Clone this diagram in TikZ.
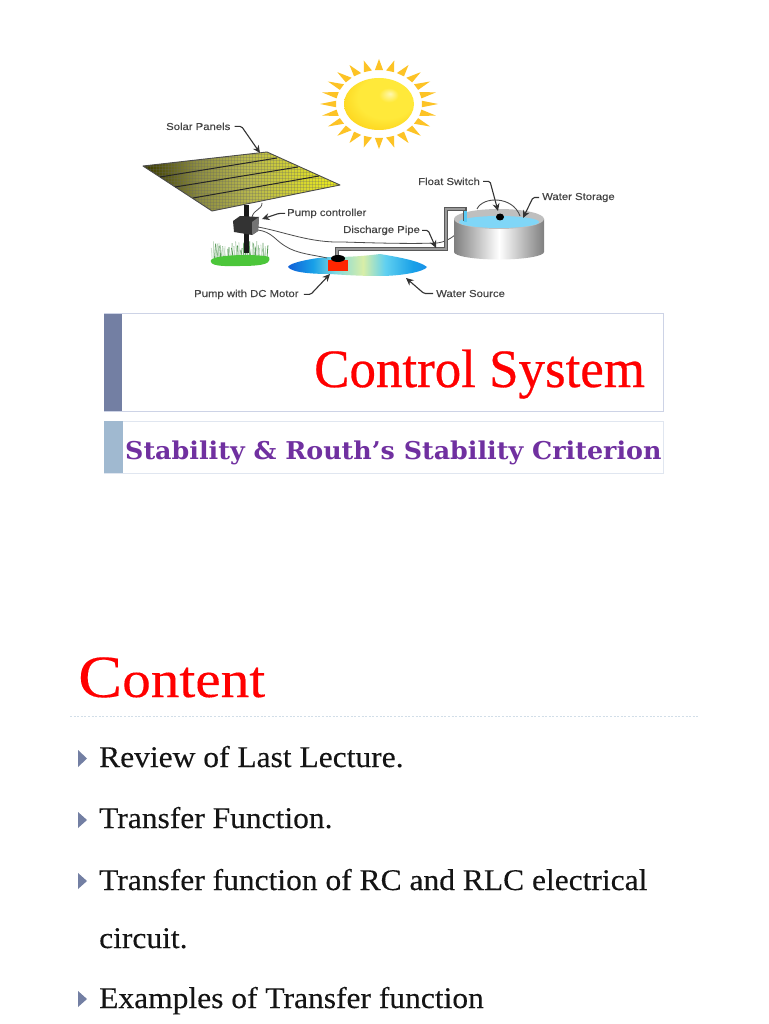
\documentclass[tikz,border=0pt]{standalone}
\usepackage{fontspec}
\usetikzlibrary{shadings,arrows.meta,calc}
\setmainfont{Liberation Serif}
\newfontfamily\bodyf[FakeStretch=1.05,FakeBold=0.25]{Liberation Serif}
\newfontfamily\titlef[FakeStretch=0.98,FakeBold=0.5]{Liberation Serif}
\newfontfamily\contf[FakeStretch=1.10,FakeBold=0.2]{Liberation Serif}
\newfontfamily\subf[FakeStretch=1.035]{DejaVu Serif}
\newfontfamily\labf[FakeStretch=1.12,FakeBold=0.2]{Liberation Sans}
\definecolor{barA}{HTML}{737FA3}
\definecolor{barB}{HTML}{A0B9D0}
\definecolor{edgeA}{HTML}{CDD3E6}
\definecolor{edgeB}{HTML}{E0E6F0}
\definecolor{purp}{HTML}{7030A0}
\definecolor{sunray}{HTML}{FDC325}
\definecolor{labgray}{HTML}{454545}
\definecolor{dotline}{HTML}{D2DEE8}
\definecolor{sunA}{HTML}{FFF8B0}
\definecolor{sunB}{HTML}{FFE93A}
\definecolor{sunC}{HTML}{FDD41C}
\definecolor{sunD}{HTML}{F8B400}
\definecolor{lakeA}{HTML}{1060D8}
\definecolor{lakeB}{HTML}{18A0E8}
\definecolor{lakeC}{HTML}{80D8E0}
\definecolor{lakeD}{HTML}{D8EEA8}
\definecolor{lakeE}{HTML}{60D0F0}
\definecolor{lakeF}{HTML}{1890E8}
\definecolor{grassg}{HTML}{4CC63A}
\pgfdeclarehorizontalshading{lakeshade}{100bp}{
  color(0bp)=(lakeA); color(25bp)=(lakeA);
  color(34bp)=(lakeB); color(42bp)=(lakeC);
  color(52bp)=(lakeD); color(60bp)=(lakeE);
  color(70bp)=(lakeB); color(75bp)=(lakeF); color(100bp)=(lakeF)}
\pgfdeclareradialshading{sunshade}{\pgfpoint{8bp}{10bp}}{
  color(0bp)=(sunA); color(7bp)=(sunB); color(20bp)=(sunB);
  color(32bp)=(sunC); color(44bp)=(sunD); color(50bp)=(sunD)}
\pgfdeclarehorizontalshading{panelshade}{100bp}{
  color(0bp)=(black!75!yellow); color(25bp)=(black!75!yellow);
  color(38bp)=(yellow!40!black!75!white); color(52bp)=(yellow!60!black!70!white);
  color(75bp)=(yellow!90!black!88!white); color(100bp)=(yellow!90!black!88!white)}
\tikzset{
  lab/.style={anchor=base west,inner sep=0pt,text=labgray,font=\labf\fontsize{10.1}{11}\selectfont},
  callout/.style={draw=black!80,line width=1.1pt,-{Stealth[length=7.5pt,width=7pt]},rounded corners=1.5pt},
  body/.style={anchor=base west,inner sep=0pt,text=black!92,font=\bodyf\fontsize{30}{32}\selectfont},
  bullet/.style={fill=barA,draw=none},
  wire/.style={draw=black!70,line width=0.8pt},
  panelline/.style={draw=black!85,line width=1pt},
}
\begin{document}
\begin{tikzpicture}[x=1pt,y=-1pt]
\useasboundingbox (0,0) rectangle (768,1024);
\fill[white] (0,0) rectangle (768,1024);
% --- sun
\foreach \a in {0,15,...,345}{
  \fill[sunray] ($(379,104)+({43*cos(\a-5.5)},{34*sin(\a-5.5)})$) -- ($(379,104)+({59*cos(\a)},{45*sin(\a)})$) -- ($(379,104)+({43*cos(\a+5.5)},{34*sin(\a+5.5)})$) -- cycle;
}
\shade[shading=sunshade] (379,104) ellipse [x radius=35,y radius=26];
% --- solar panel
\shade[shading=panelshade,shading angle=8]
  (143,166) -- (267,152) -- (340,185) -- (212,211) -- cycle;
\begin{scope}
\clip (143,166) -- (267,152) -- (340,185) -- (212,211) -- cycle;
\foreach \i in {0,3,...,210}{
  \draw[black!60,line width=0.6pt,opacity=0.28] (135+\i,140) -- (135+\i,215);
}
\foreach \j in {0,3,...,72}{
  \draw[black!60,line width=0.6pt,opacity=0.28] (135,145+\j) -- (345,145+\j);
}
\end{scope}
\draw[black!70,line width=0.9pt,line join=round] (143,166) -- (267,152) -- (340,185) -- (212,211) -- cycle;
\draw[panelline] (160,177) -- (277,158);
\draw[panelline] (175,187) -- (298,167);
\draw[panelline] (193,198) -- (319,176);
% --- grass
\pgfmathsetseed{42}
\foreach \i in {0,...,44}{
  \pgfmathsetmacro{\xa}{212+\i*1.25}
  \pgfmathsetmacro{\hh}{8+rnd*9}
  \pgfmathsetmacro{\dd}{-2+rnd*4}
  \pgfmathsetmacro{\mixv}{15+rnd*55}
  \draw[green!40!black!\mixv!white,line width=0.8pt] (\xa,258) -- ($(\xa,258)+(\dd,-\hh)$);
}
\fill[grassg] (211,260) .. controls (215,254) and (262,254) .. (269,257) .. controls (271,263) and (266,266) .. (240,266) .. controls (222,266.5) and (209,266) .. (211,260) -- cycle;
% --- pole, controller
\fill[black!90] (244,205) rectangle (248.5,253);
\draw[wire] (252,217) .. controls (254,209) and (262,210) .. (262,203);
\fill[black!80] (233,221) -- (240,216) -- (259,217) -- (258,231) -- (252,235) -- (234,232) -- cycle;
\fill[black!55] (252,222) -- (259,217) -- (258,231) -- (252,235) -- cycle;
% --- lake
\shade[shading=lakeshade]
  (288,267) .. controls (289,264) and (300,261) .. (312,259) .. controls (320,257.5) and (327,257) .. (335,257) .. controls (350,257) and (365,256) .. (380,254)
  .. controls (398,257) and (420,261) .. (427,267) .. controls (424,272) and (400,276) .. (380,276)
  .. controls (360,276) and (345,275) .. (330,274) .. controls (315,274) and (292,273) .. (288,267) -- cycle;
% --- wires
\draw[wire] (258,227) .. controls (285,232) and (310,243) .. (343,242) .. controls (375,243) and (410,244) .. (437,243) .. controls (445,242) and (450,239) .. (455,235);
\draw[wire] (258,230) .. controls (272,232) and (275,240) .. (285,246) .. controls (297,254) and (315,255) .. (327,258);
% --- tank
\shade[left color=black!50,right color=black!50,middle color=white]
  (454,219) -- (544,219) -- (544,252) arc[start angle=0,end angle=180,x radius=45,y radius=7.5] -- cycle;
\fill[black!25] (499,219) ellipse [x radius=45,y radius=10];
\fill[cyan!50] (499,222) ellipse [x radius=40,y radius=6];
% --- discharge pipe
\draw[black!65,line width=4.2pt,line join=miter] (337,258) -- (337,249) -- (446,249) -- (446,209) -- (465,209) -- (465,221);
\draw[black!40,line width=2.2pt,line join=miter] (337,258) -- (337,249) -- (446,249) -- (446,209) -- (465,209);
\fill[cyan!65] (464,211) rectangle (466.5,222);
% --- pump
\fill[red!70!orange] (328,260) rectangle (348,271);
\fill[black] (338,258.5) ellipse [x radius=7,y radius=3.5];
% --- float
\draw[black!70,line width=0.9pt] (477,209) .. controls (483,196) and (513,196) .. (520,216);
\fill[black] (500,217) ellipse [x radius=4,y radius=3.5];
% --- labels and call-outs
\node[lab] (lSolar) at (166,130) {Solar Panels};
\node[lab] (lCtrl) at (287,216) {Pump controller};
\node[lab] (lMotor) at (194,297) {Pump with DC Motor};
\node[lab] (lPipe) at (343,233) {Discharge Pipe};
\node[lab] (lFloat) at (418,185) {Float Switch};
\node[lab] (lStore) at (542,200) {Water Storage};
\node[lab] (lSource) at (436,297) {Water Source};
\coordinate (tSolar) at (260,153);
\coordinate (tCtrl) at (262,219);
\coordinate (tMotor) at (330,274);
\coordinate (tPipe) at (436,248);
\coordinate (tFloat) at (498,211);
\coordinate (tStore) at (523,218);
\coordinate (tSource) at (406,278);
\draw[callout] ([xshift=4pt]lSolar.east) -- ++(7,0) -- (tSolar);
\draw[callout] ([xshift=-2pt]lCtrl.west) -- ++(-6,0) -- (tCtrl);
\draw[callout] ([xshift=5pt]lMotor.east) -- ++(7,0) -- (tMotor);
\draw[callout] ([xshift=2pt]lPipe.east) -- ++(6,0) -- (tPipe);
\draw[callout] ([xshift=3pt]lFloat.east) -- ++(7,0) -- (tFloat);
\draw[callout] ([xshift=-3pt]lStore.west) -- ++(-6,0) -- (tStore);
\draw[callout] ([xshift=-3pt]lSource.west) -- ++(-9,0) -- (tSource);
% --- title boxes
\draw[edgeA,line width=0.9pt] (104,313.5) rectangle (663,411);
\fill[barA] (104,313.5) rectangle (122,411);
\draw[edgeB,line width=0.9pt] (104,421) rectangle (663,473);
\fill[barB] (104,421) rectangle (123,473);
\node[anchor=base west,inner sep=0pt,text=red] (title) at (314,387) {\titlef\fontsize{54}{56}\selectfont Control System};
\node[anchor=base west,inner sep=0pt,text=purp] (subtitle) at (125,459) {\subf\bfseries\fontsize{24.5}{26}\selectfont Stability \& Routh’s Stability Criterion};
% --- content
\node[anchor=base west,inner sep=0pt,text=red] (content) at (78,697) {\contf\fontsize{60}{62}\selectfont C\fontsize{52}{54}\selectfont ontent};
\draw[dotline,line width=1pt,dash pattern=on 2pt off 1.6pt] (70,716) -- (698,716);
\fill[bullet] (78,750) -- (87,758.5) -- (78,767) -- cycle;
\fill[bullet] (78,812) -- (87,820) -- (78,828) -- cycle;
\fill[bullet] (78,873) -- (87,881) -- (78,889) -- cycle;
\fill[bullet] (78,991) -- (87,999) -- (78,1007) -- cycle;
\node[body] (b1) at (99,767) {Review of Last Lecture.};
\node[body] (b2) at (99,828) {Transfer Function.};
\node[body] (b3) at (99,890) {Transfer function of RC and RLC electrical};
\node[body] (b3b) at (99,948) {circuit.};
\node[body] (b4) at (99,1008) {Examples of Transfer function};
\end{tikzpicture}
\end{document}
